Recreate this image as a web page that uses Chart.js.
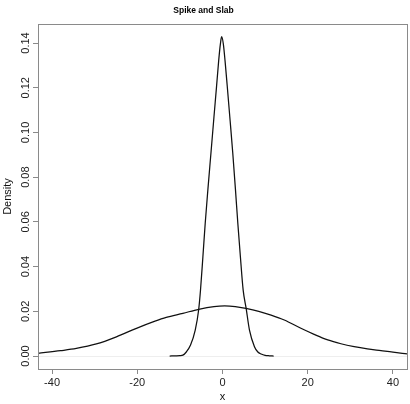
<!DOCTYPE html>
<html>
<head>
<meta charset="utf-8">
<script src="https://cdn.jsdelivr.net/npm/chart.js@4/dist/chart.umd.min.js"></script>
<style>
  body { margin: 0; background: #fff; }
  #wrap { width: 410px; height: 404px; }
</style>
</head>
<body>
<div id="wrap"><canvas id="myChart"></canvas></div>
<script>
// spike density (narrow curve)
var spikeX = [-12.4, -11, -10, -9.3, -8.5, -7.5, -6.4, -5.6, -5.16, -4.6, -4.06, -3.44, -2.7, -2.0, -1.4, -0.9, -0.5, -0.2,
              0.2, 0.6, 1.1, 1.8, 2.4, 3.05, 3.6, 4.2, 4.85, 5.55, 6.33, 7.5, 8.3, 9.07, 10, 11, 12.0];
var spikeY = [0, 0.0001, 0.0002, 0.0004, 0.0018, 0.0049, 0.0116, 0.0206, 0.0295, 0.0444, 0.0593, 0.0742, 0.091, 0.107, 0.1205, 0.132, 0.1395, 0.1428,
              0.1395, 0.132, 0.121, 0.105, 0.091, 0.0742, 0.0593, 0.0444, 0.0295, 0.0213, 0.0116, 0.0042, 0.0018, 0.0009, 0.0003, 0.0001, 0];

// slab density (wide curve)
var slabX = [-43.3, -38, -34.3, -29.6, -24.9, -20.2, -16, -13.2, -9.3, -5.6, -2, 0.5, 3, 5.5, 8.5, 11.4, 14.5, 18.4, 21.5, 24.7, 27.8, 30.9, 34, 37.2, 40, 43.3];
var slabY = [0.0012, 0.0024, 0.0034, 0.0054, 0.0086, 0.0124, 0.0155, 0.0173, 0.0191, 0.0209, 0.0221, 0.0224, 0.0221, 0.0213, 0.0200, 0.0183, 0.0161, 0.0124, 0.0097, 0.0072, 0.0055, 0.0042, 0.0032, 0.0024, 0.0017, 0.0010];

var xTicks = [-40, -20, 0, 20, 40];
var yTicks = [0, 0.02, 0.04, 0.06, 0.08, 0.10, 0.12, 0.14];

var FONT = "'Liberation Sans', Arial, Helvetica, sans-serif";

function toPoints(xs, ys) {
	var pts = [];
	for (let i = 0; i < xs.length; i++) {
		pts.push({ x: xs[i], y: ys[i] });
	}
	return pts;
}

// R style box around the plot region
var boxPlugin = {
	id: "box",
	afterDraw: function(chart) {
		var a = chart.chartArea;
		var c = chart.ctx;
		c.save();
		c.strokeStyle = "#8a8a8a";
		c.lineWidth = 1;
		c.strokeRect(Math.round(a.left) + 0.5, Math.round(a.top) + 0.5, Math.round(a.right - a.left), Math.round(a.bottom - a.top));
		c.restore();
	}
};

document.addEventListener("DOMContentLoaded", function() {
	var ctx = document.getElementById("myChart").getContext("2d");
	var lineStyle = { borderColor: "#111", borderWidth: 1.25, pointRadius: 0, showLine: true, fill: false, cubicInterpolationMode: "monotone" };

	new Chart(ctx, {
		type: "scatter",
		data: {
			datasets: [
				Object.assign({ label: "spike", data: toPoints(spikeX, spikeY) }, lineStyle),
				Object.assign({ label: "slab", data: toPoints(slabX, slabY) }, lineStyle)
			]
		},
		plugins: [boxPlugin],
		options: {
			responsive: true,
			maintainAspectRatio: false,
			animation: false,
			devicePixelRatio: 1,
			layout: { padding: { left: 0, right: 3, top: 0, bottom: 0 } },
			plugins: {
				legend: { display: false },
				tooltip: { enabled: false },
				title: {
					display: true,
					text: "Spike and Slab",
					color: "#000",
					font: { family: FONT, size: 8.5, weight: "bold" },
					padding: { top: 6, bottom: 7.8 }
				}
			},
			scales: {
				x: {
					type: "linear",
					min: -43.3,
					max: 43.3,
					afterBuildTicks: function(scale) { scale.ticks = xTicks.map(v => ({ value: v })); },
					afterFit: function(scale) { scale.height = 35; },
					grid: { drawOnChartArea: false, drawTicks: true, tickLength: 5, tickColor: "#8a8a8a" },
					border: { display: false },
					ticks: {
						color: "#222",
						padding: 2,
						font: { family: FONT, size: 11 },
						callback: function(v) { return String(v); }
					},
					title: { display: true, text: "x", color: "#111", font: { family: FONT, size: 11 }, padding: { top: 0, bottom: 0 } }
				},
				y: {
					type: "linear",
					min: -0.0058,
					max: 0.1485,
					afterBuildTicks: function(scale) { scale.ticks = yTicks.map(v => ({ value: v })); },
					afterFit: function(scale) { scale.width = 38; },
					grid: {
						drawOnChartArea: true,
						drawTicks: true,
						tickLength: 5,
						tickColor: "#8a8a8a",
						color: function(c) { return c.tick && c.tick.value === 0 ? "#eeeeee" : "rgba(0,0,0,0)"; }
					},
					border: { display: false },
					ticks: {
						color: "#222",
						padding: -3.5,
						crossAlign: "center",
						minRotation: 90,
						maxRotation: 90,
						font: { family: FONT, size: 11 },
						callback: function(v) { return v.toFixed(2); }
					},
					title: { display: true, text: "Density", color: "#111", font: { family: FONT, size: 11 }, padding: { top: 1, bottom: 0 } }
				}
			}
		}
	});
});
</script>
</body>
</html>
